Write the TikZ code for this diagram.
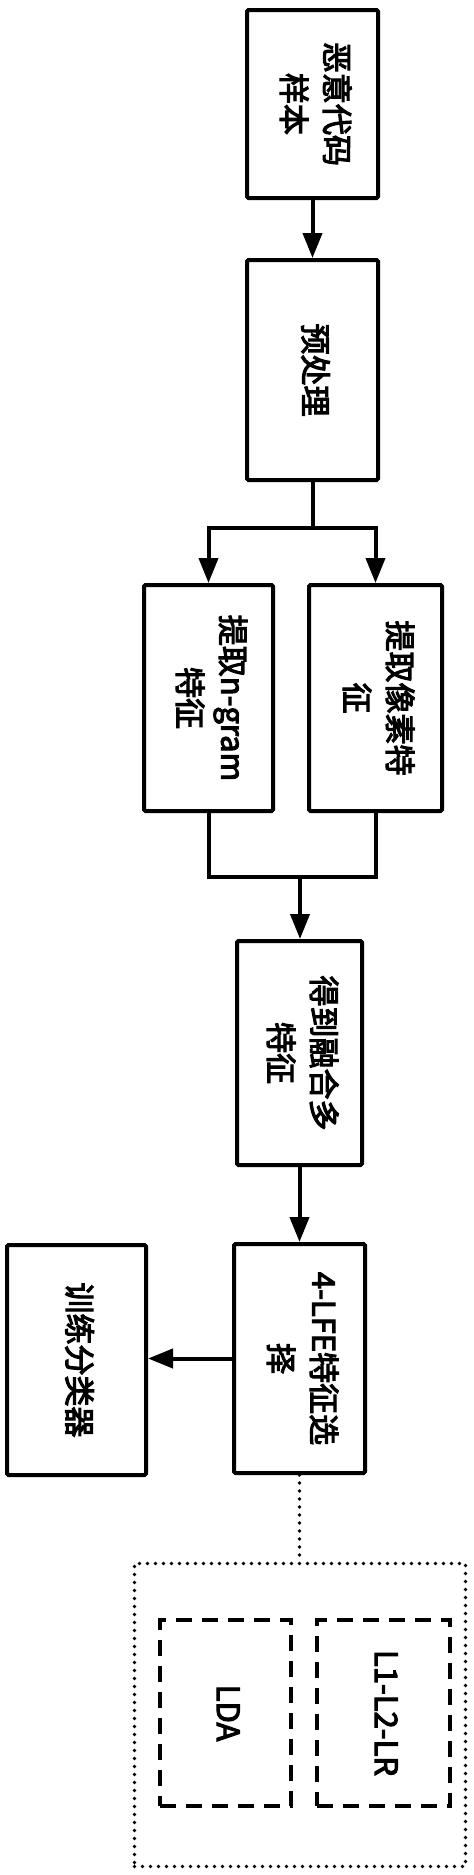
\documentclass[tikz,border=0pt]{standalone}
\usepackage{fontspec}
\usepackage{graphicx}
\usetikzlibrary{arrows.meta}
\newfontfamily\cjkfont{Noto Sans CJK SC}[FakeBold=3.5]
\newcommand{\vtext}[1]{\rotatebox[origin=c]{-90}{\begin{tabular}{@{}c@{}}#1\end{tabular}}}

\begin{document}
\begin{tikzpicture}[x=1pt, y=-1pt,
    font=\cjkfont\fontsize{31}{43}\selectfont,
    box/.style={draw, line width=4pt, rounded corners=1.5pt, inner sep=0pt},
    dbox/.style={draw, line width=4pt, dash pattern=on 16pt off 10pt, inner sep=0pt},
    obox/.style={draw, line width=3.8pt, dash pattern=on 0pt off 8pt, line cap=round, inner sep=0pt},
    flow/.style={line width=4pt, -{Triangle[width=19pt,length=25pt]}},
    link/.style={line width=4pt}]
    \useasboundingbox (0,0) rectangle (474,1875);

    % Cajas
    \node[box, minimum width=131pt, minimum height=188pt] (smp) at (312.5,104) {\vtext{恶意代码\\样本}};
    \node[box, minimum width=131pt, minimum height=220pt] (pre) at (312.5,370) {\vtext{预处理}};
    \node[box, minimum width=129pt, minimum height=226pt] (ngm) at (208.5,698) {\vtext{提取n-gram\\特征}};
    \node[box, minimum width=133pt, minimum height=226pt] (pix) at (375.5,698) {\vtext{提取像素特\\征}};
    \node[box, minimum width=125pt, minimum height=224pt] (fus) at (299.5,1053) {\vtext{得到融合多\\特征}};
    \node[box, minimum width=131pt, minimum height=229pt] (lfe) at (299.5,1358.5) {\vtext{4-LFE特征选\\择}};
    \node[box, minimum width=139pt, minimum height=230pt] (clf) at (76.5,1360) {\vtext{训练分类器}};

    % Opciones de seleccion
    \node[obox, minimum width=331pt, minimum height=303pt] (opt) at (300,1715) {};
    \node[dbox, minimum width=131pt, minimum height=186pt] (lda) at (225.5,1713) {\vtext{LDA}};
    \node[dbox, minimum width=133pt, minimum height=186pt] (llr) at (383.5,1713) {\vtext{L1-L2-LR}};

    % Puntos de union
    \coordinate (split) at (312.5,528);
    \coordinate (join) at (300,877);

    % Flechas
    \draw[link] (pre) -- (split);
    \foreach \b in {ngm, pix} {
        \draw[flow] (split) -| (\b);
        \draw[link] (\b) |- (join);
    }
    \draw[flow] (join) -- (join |- fus.north);
    \foreach \a/\b in {smp/pre, fus/lfe} {
        \draw[flow] (\a) -- (\b);
    }
    \draw[flow] (lfe.west) -- (clf.east |- lfe.west);
    \draw[obox] (lfe.south) -- (lfe.south |- opt.north);
\end{tikzpicture}
\end{document}
